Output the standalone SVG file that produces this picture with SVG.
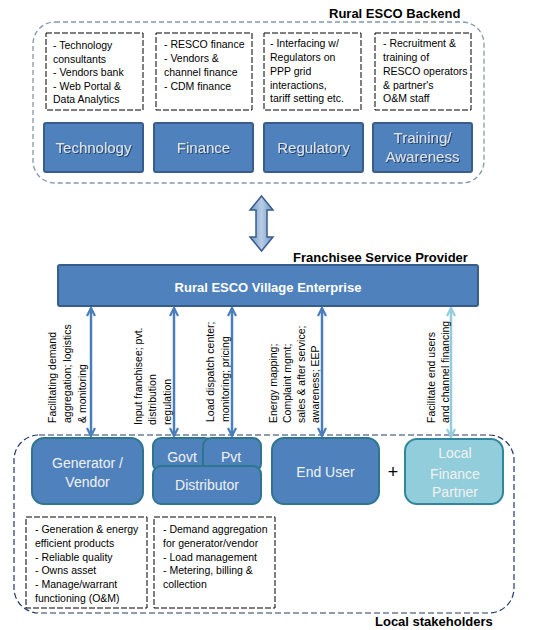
<svg xmlns="http://www.w3.org/2000/svg" width="544" height="630" viewBox="0 0 544 630">
<defs>
<style>
.title{font-family:"Liberation Sans",Arial,sans-serif;font-weight:bold;font-size:13px;fill:#000}
.bul{font-family:"Liberation Sans",Arial,sans-serif;font-size:10.5px;fill:#000}
.dbox{fill:#fff;stroke:#000;stroke-width:1;stroke-dasharray:6 2}
.bbox{fill:#4f81bd;stroke:#385d8a;stroke-width:2}
.blab{font-family:"Liberation Sans",Arial,sans-serif;font-size:15px;fill:#dde4ec;text-anchor:middle;filter:url(#sh)}
.node{fill:#4f81bd;stroke:#2e7590;stroke-width:2}
.nlab{font-family:"Liberation Sans",Arial,sans-serif;font-size:14px;fill:#f2f2f2;text-anchor:middle}
.rot{font-family:"Liberation Sans",Arial,sans-serif;font-size:10.5px;fill:#000}
.arr{stroke:#4a7ebb;stroke-width:2.5;fill:none;marker-start:url(#ah);marker-end:url(#ah)}
.arrL{stroke:#93cddd;stroke-width:2.5;fill:none;marker-start:url(#ahL);marker-end:url(#ahL)}
</style>
<filter id="sh" x="-10%" y="-30%" width="120%" height="160%">
<feDropShadow dx="1" dy="1" stdDeviation="0.6" flood-color="#1f3a5f" flood-opacity="0.9"/>
</filter>
<marker id="ah" viewBox="0 0 10 10" refX="9" refY="5" markerWidth="4" markerHeight="4" orient="auto-start-reverse" markerUnits="strokeWidth">
<path d="M1,1 L9,5 L1,9" fill="none" stroke="#4a7ebb" stroke-width="2.2"/>
</marker>
<marker id="ahL" viewBox="0 0 10 10" refX="9" refY="5" markerWidth="4" markerHeight="4" orient="auto-start-reverse" markerUnits="strokeWidth">
<path d="M1,1 L9,5 L1,9" fill="none" stroke="#93cddd" stroke-width="2.2"/>
</marker>
<linearGradient id="dg" x1="0" y1="0" x2="1" y2="0">
<stop offset="0" stop-color="#6f97c9"/>
<stop offset="0.5" stop-color="#b9cde5"/>
<stop offset="1" stop-color="#6f97c9"/>
</linearGradient>
</defs>
<rect width="544" height="630" fill="#fff"/>

<g id="backend">
<rect x="33" y="22" width="451" height="161" rx="22" fill="none" stroke="#8496b0" stroke-width="1.3" stroke-dasharray="5 3"/>
<text class="title" x="329" y="18">Rural ESCO Backend</text>
</g>

<g id="tech-notes">
<rect class="dbox" x="46" y="33" width="97" height="77"/>
<text class="bul" x="53" y="49">- Technology</text>
<text class="bul" x="53" y="63">consultants</text>
<text class="bul" x="53" y="76">- Vendors bank</text>
<text class="bul" x="53" y="90">- Web Portal &amp;</text>
<text class="bul" x="53" y="103">Data Analytics</text>
</g>
<g id="fin-notes">
<rect class="dbox" x="156" y="33" width="96" height="77"/>
<text class="bul" x="164" y="48">- RESCO finance</text>
<text class="bul" x="164" y="62">- Vendors &amp;</text>
<text class="bul" x="164" y="76">channel finance</text>
<text class="bul" x="164" y="90">- CDM finance</text>
</g>
<g id="reg-notes">
<rect class="dbox" x="264" y="33" width="97" height="77"/>
<text class="bul" x="270" y="47">- Interfacing w/</text>
<text class="bul" x="270" y="61">Regulators on</text>
<text class="bul" x="270" y="75">PPP grid</text>
<text class="bul" x="270" y="89">interactions,</text>
<text class="bul" x="270" y="102">tariff setting etc.</text>
</g>
<g id="train-notes">
<rect class="dbox" x="375" y="33" width="96" height="77"/>
<text class="bul" x="383" y="47">- Recruitment &amp;</text>
<text class="bul" x="383" y="61">training of</text>
<text class="bul" x="383" y="75">RESCO operators</text>
<text class="bul" x="383" y="89">&amp; partner's</text>
<text class="bul" x="383" y="102">O&amp;M staff</text>
</g>

<g id="technology">
<rect class="bbox" x="44" y="123" width="99" height="49" rx="2"/>
<text class="blab" x="93.5" y="153">Technology</text>
</g>
<g id="finance">
<rect class="bbox" x="154" y="123" width="99" height="49" rx="2"/>
<text class="blab" x="203.5" y="153">Finance</text>
</g>
<g id="regulatory">
<rect class="bbox" x="264" y="123" width="99" height="49" rx="2"/>
<text class="blab" x="313.5" y="153">Regulatory</text>
</g>
<g id="training">
<rect class="bbox" x="373" y="123" width="99" height="49" rx="2"/>
<text class="blab" x="422.5" y="143">Training/</text>
<text class="blab" x="422.5" y="162">Awareness</text>
</g>

<g id="enterprise">
<text class="title" x="293" y="262">Franchisee Service Provider</text>
<rect x="58" y="265" width="420" height="41" rx="2" fill="#4f81bd" stroke="#385d8a" stroke-width="2"/>
<text x="268" y="292" font-family="'Liberation Sans',Arial,sans-serif" font-weight="bold" font-size="13" fill="#fff" text-anchor="middle">Rural ESCO Village Enterprise</text>
</g>

<g id="stakeholders">
<rect x="14" y="435" width="500" height="178" rx="25" fill="none" stroke="#203864" stroke-width="1.2" stroke-dasharray="6 3"/>
<text class="title" x="375" y="626">Local stakeholders</text>
</g>

<g id="generator">
<rect class="node" x="32" y="438" width="111" height="66" rx="12"/>
<text class="nlab" x="87.5" y="468">Generator /</text>
<text class="nlab" x="87.5" y="487">Vendor</text>
</g>
<g id="distributor">
<rect class="node" x="153" y="438" width="60" height="34" rx="8" stroke-width="1.5"/>
<rect class="node" x="203" y="438" width="58" height="34" rx="8" stroke-width="1.5"/>
<rect class="node" x="153" y="466" width="108" height="38" rx="8" stroke-width="1.5"/>
<text class="nlab" x="182" y="462" font-size="13">Govt</text>
<text class="nlab" x="231" y="462" font-size="13">Pvt</text>
<text class="nlab" x="207" y="490">Distributor</text>
</g>
<g id="enduser">
<rect class="node" x="272" y="438" width="107" height="66" rx="12"/>
<text class="nlab" x="325.5" y="477">End User</text>
</g>
<g id="plus">
<text x="393" y="478" font-family="'Liberation Sans',Arial,sans-serif" font-size="18" fill="#000" text-anchor="middle">+</text>
</g>
<g id="localfinance">
<rect x="405" y="439" width="98" height="65" rx="12" fill="#92cddc" stroke="#31859c" stroke-width="2"/>
<text class="nlab" x="455" y="458">Local</text>
<text class="nlab" x="455" y="479">Finance</text>
<text class="nlab" x="455" y="497">Partner</text>
</g>

<g id="gen-notes">
<rect class="dbox" x="26" y="517" width="121" height="91"/>
<text class="bul" x="35" y="533">- Generation &amp; energy</text>
<text class="bul" x="35" y="547">efficient products</text>
<text class="bul" x="35" y="561">- Reliable quality</text>
<text class="bul" x="35" y="574">- Owns asset</text>
<text class="bul" x="35" y="588">- Manage/warrant</text>
<text class="bul" x="35" y="602">functioning (O&amp;M)</text>
</g>
<g id="dist-notes">
<rect class="dbox" x="154" y="517" width="121" height="91"/>
<text class="bul" x="163" y="533">- Demand aggregation</text>
<text class="bul" x="163" y="547">for generator/vendor</text>
<text class="bul" x="163" y="561">- Load management</text>
<text class="bul" x="163" y="574">- Metering, billing &amp;</text>
<text class="bul" x="163" y="588">collection</text>
</g>

<g id="connectors">
<path d="M261.5,196 L273,210 L267,210 L267,237 L273,237 L261.5,251 L250,237 L256,237 L256,210 L250,210 Z" fill="url(#dg)" stroke="#385d8a" stroke-width="1.5"/>
<line class="arr" x1="91" y1="308" x2="91" y2="436"/>
<line class="arr" x1="174" y1="308" x2="174" y2="436"/>
<line class="arr" x1="232" y1="308" x2="232" y2="436"/>
<line class="arr" x1="322" y1="308" x2="322" y2="436"/>
<line class="arrL" x1="451" y1="308" x2="451" y2="437"/>
<text class="rot" transform="translate(56,423) rotate(-90)">Facilitating demand</text>
<text class="rot" transform="translate(71,423) rotate(-90)">aggregation; logistics</text>
<text class="rot" transform="translate(86,423) rotate(-90)">&amp; monitoring</text>
<text class="rot" transform="translate(142,425) rotate(-90)">Input franchisee; pvt.</text>
<text class="rot" transform="translate(156,425) rotate(-90)">distribution</text>
<text class="rot" transform="translate(171,425) rotate(-90)">regulation</text>
<text class="rot" transform="translate(214,422) rotate(-90)">Load dispatch center;</text>
<text class="rot" transform="translate(229,422) rotate(-90)">monitoring; pricing</text>
<text class="rot" transform="translate(277,423) rotate(-90)">Energy mapping;</text>
<text class="rot" transform="translate(291,423) rotate(-90)">Complaint mgmt;</text>
<text class="rot" transform="translate(305,423) rotate(-90)">sales &amp; after service;</text>
<text class="rot" transform="translate(319,423) rotate(-90)">awareness; EEP</text>
<text class="rot" transform="translate(435,423) rotate(-90)">Facilitate end users</text>
<text class="rot" transform="translate(449,423) rotate(-90)">and channel financing</text>
</g>
</svg>
